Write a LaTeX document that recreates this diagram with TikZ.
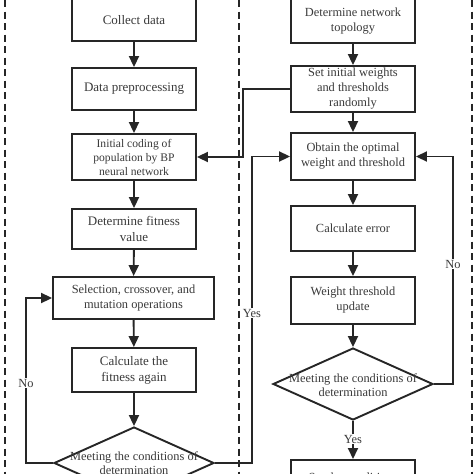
\documentclass[tikz,border=0pt]{standalone}
\usepackage{fontspec}
\setmainfont{Liberation Serif}
\usepackage{tikz}
\usetikzlibrary{arrows.meta,shapes.geometric}
\definecolor{ln}{HTML}{262626}
\definecolor{tx}{HTML}{3A3A3A}

\begin{document}
\begin{tikzpicture}[x=1pt,y=-1pt,
  box/.style={draw=ln,line width=1.9pt,fill=white,text=tx,align=center,minimum width=124pt,inner sep=0pt,font=\fontsize{12.4}{15}\selectfont},
  big/.style={font=\fontsize{13}{16}\selectfont},
  small/.style={font=\fontsize{11.6}{14}\selectfont},
  decision/.style={diamond,draw=ln,line width=1.9pt,fill=white,minimum width=160pt,minimum height=72pt,inner sep=0pt},
  dtext/.style={text=tx,align=center,font=\fontsize{12.4}{14}\selectfont},
  flow/.style={draw=ln,line width=1.9pt,-{Triangle[length=11pt,width=10pt]}},
  lbl/.style={fill=white,text=tx,inner sep=1pt,font=\fontsize{12.4}{14}\selectfont},
  sep/.style={draw=ln,line width=1.8pt,dash pattern=on 7pt off 4.5pt}]
\useasboundingbox (0,0) rectangle (474,474);
\clip (0,0) rectangle (474,474);
\draw[sep] (5,0) -- (5,474);
\draw[sep] (239,0) -- (239,474);
\draw[sep] (472,0) -- (472,474);
% left column
\node[box,big,minimum height=42pt] (collect) at (134,20) {Collect data};
\node[box,big,minimum height=42pt] (prep) at (134,89) {Data preprocessing};
\node[box,small,minimum height=46pt] (coding) at (134,157) {Initial coding of\\population by BP\\neural network};
\node[box,big,minimum height=40pt] (fitness) at (134,229) {Determine fitness\\value};
\node[box,minimum width=161pt,minimum height=42pt] (select) at (133.5,298) {Selection, crossover, and\\mutation operations};
\node[box,big,minimum height=44pt] (again) at (134,370) {Calculate the\\fitness again};
\node[decision] (judgeL) at (134,463) {};
\node[dtext] (judgeLtxt) at (134,463) {Meeting the conditions of\\determination};
% right column
\node[box,minimum height=44pt] (topo) at (353,21) {Determine network\\topology};
\node[box,minimum height=46pt] (setw) at (353,89) {Set initial weights\\and thresholds\\randomly};
\node[box,minimum height=47pt] (obtain) at (353,156.5) {Obtain the optimal\\weight and threshold};
\node[box,minimum height=45pt] (calc) at (353,228.5) {Calculate error};
\node[box,minimum height=47pt] (update) at (353,300.5) {Weight threshold\\update};
\node[decision] (judgeR) at (353,384) {};
\node[dtext] (judgeRtxt) at (353,385) {Meeting the conditions of\\determination};
\node[box,anchor=north,minimum height=40pt] (final) at (353,459) {};
\node[dtext] (finaltxt) at (353,477) {Set the conditions};

\coordinate (noL) at (26,463);
\coordinate (yesL) at (252,463);
\coordinate (back) at (243,89);
\coordinate (noR) at (453,384);

\draw[flow] (collect) -- (prep);
\draw[flow] (prep) -- (coding);
\draw[flow] (coding) -- (fitness);
\draw[flow] (fitness) -- (select);
\draw[flow] (select) -- (again);
\draw[flow] (again) -- (judgeL);
\draw[flow] (judgeL.west) -- (noL) |- (select.west);
\draw[flow] (judgeL.east) -- (yesL) |- (obtain.west);
\draw[flow] (setw.west) -- (back) |- (coding.east);
\draw[flow] (topo) -- (setw);
\draw[flow] (setw) -- (obtain);
\draw[flow] (obtain) -- (calc);
\draw[flow] (calc) -- (update);
\draw[flow] (update) -- (judgeR);
\draw[flow] (judgeR.east) -- (noR) |- (obtain.east);
\draw[flow] (judgeR) -- (final);

\node[lbl] (no1) at (26,383) {No};
\node[lbl] (yes1) at (252,313) {Yes};
\node[lbl] (no2) at (453,264) {No};
\node[lbl] (yes2) at (353,439) {Yes};
\end{tikzpicture}
\end{document}
